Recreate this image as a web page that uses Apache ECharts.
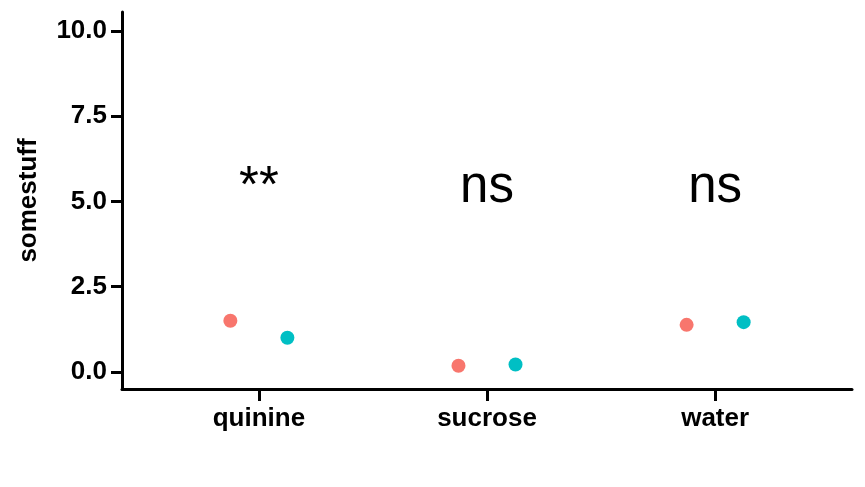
<!DOCTYPE html>
<html>
<head>
<meta charset="utf-8">
<script src="https://cdn.jsdelivr.net/npm/echarts@6/dist/echarts.min.js"></script>
<style>
html,body{margin:0;padding:0;background:#fff;}
#chart{width:865px;height:487px;}
</style>
</head>
<body>
<div id="chart"></div>
<script>
var categories = ['quinine', 'sucrose', 'water'];
var groupA = [1.50, 0.18, 1.38];   // red points
var groupB = [1.00, 0.22, 1.46];   // cyan points
var annotations = ['**', 'ns', 'ns'];
var annotationY = [5.4, 5.4, 5.4];
var yTicks = [0, 2.5, 5, 7.5, 10];
var dodge = 0.125;

function pts(vals, off) {
  return vals.map(function (v, i) { return [i + 1 + off, v]; });
}

var chart = echarts.init(document.getElementById('chart'));
var FONT = '"Liberation Sans", Arial, sans-serif';
chart.setOption({
  animation: false,
  backgroundColor: '#ffffff',
  grid: { left: 122, right: 13, top: 12, bottom: 98, containLabel: false },
  xAxis: {
    type: 'value',
    min: 0.4,
    max: 3.6,
    splitLine: { show: false },
    axisLine: { show: true, onZero: false, lineStyle: { color: '#000', width: 3 } },
    axisTick: { show: true, length: 12, lineStyle: { color: '#000', width: 3 }, customValues: [1, 2, 3] },
    axisLabel: {
      customValues: [1, 2, 3],
      formatter: function (v) { return categories[Math.round(v) - 1] || ''; },
      color: '#000', fontFamily: FONT, fontWeight: 'bold', fontSize: 26, margin: 17
    }
  },
  yAxis: {
    type: 'value',
    min: -0.5,
    max: 10.55,
    name: 'somestuff',
    nameLocation: 'middle',
    nameGap: 80,
    nameTextStyle: { color: '#000', fontFamily: FONT, fontWeight: 'bold', fontSize: 26 },
    splitLine: { show: false },
    axisLine: { show: true, onZero: false, lineStyle: { color: '#000', width: 3 } },
    axisTick: { show: true, length: 11, lineStyle: { color: '#000', width: 3 }, customValues: yTicks },
    axisLabel: {
      customValues: yTicks,
      formatter: function (v) { return v.toFixed(1); },
      color: '#000', fontFamily: FONT, fontWeight: 'bold', fontSize: 26, margin: 15
    }
  },
  series: [
    {
      type: 'scatter', symbolSize: 14,
      itemStyle: { color: '#F8766D', opacity: 1 },
      data: pts(groupA, -dodge)
    },
    {
      type: 'scatter', symbolSize: 14,
      itemStyle: { color: '#00BFC4', opacity: 1 },
      data: pts(groupB, dodge)
    },
    {
      type: 'scatter', symbolSize: 0, silent: true,
      data: annotationY.map(function (y, i) { return { value: [i + 1, y], label: { formatter: annotations[i] } }; }),
      label: {
        show: true, position: 'inside', color: '#000', opacity: 1, textBorderWidth: 0,
        fontFamily: FONT, fontSize: 51, fontWeight: 'normal'
      }
    }
  ]
});
</script>
</body>
</html>
